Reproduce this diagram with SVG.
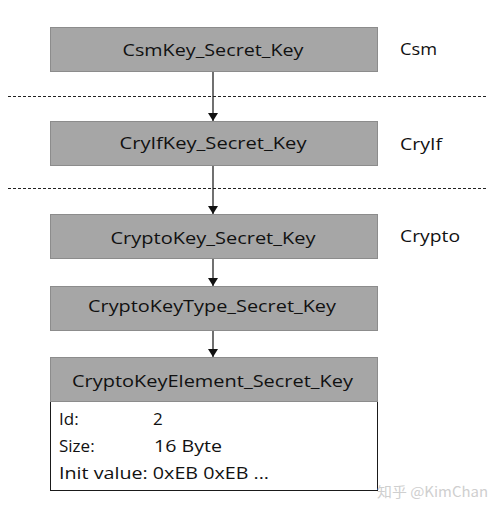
<svg xmlns="http://www.w3.org/2000/svg" width="500" height="514" viewBox="0 0 500 514">
<defs>
<style>
.box{fill:#a6a6a6;stroke:#8c8c8c;stroke-width:1}
.body{fill:#ffffff;stroke:#1a1a1a;stroke-width:1}
.t{font-family:"Open Sans","Liberation Sans",sans-serif;font-size:17px;fill:#111111}
.c{text-anchor:middle}
.dash{stroke:#222222;stroke-width:1;stroke-dasharray:3 2;fill:none}
.conn{stroke:#111111;stroke-width:1.2;fill:none}
.wm{font-family:"Noto Sans CJK SC","Liberation Sans",sans-serif;font-size:14px;fill:#cfcfcf}
</style>
<marker id="arr" viewBox="0 0 8 10" refX="8" refY="5" markerWidth="8" markerHeight="10" markerUnits="userSpaceOnUse" orient="auto">
<path d="M0,0 L8,5 L0,10 Z" fill="#111111"/>
</marker>
</defs>
<rect width="500" height="514" fill="#ffffff"/>
<g id="separators">
<line class="dash" x1="8" y1="96.5" x2="488" y2="96.5"/>
<line class="dash" x1="8" y1="188.5" x2="488" y2="188.5"/>
</g>
<g id="connectors">
<line class="conn" x1="213" y1="71" x2="213" y2="121" marker-end="url(#arr)"/>
<line class="conn" x1="213" y1="165" x2="213" y2="214" marker-end="url(#arr)"/>
<line class="conn" x1="213" y1="259" x2="213" y2="286" marker-end="url(#arr)"/>
<line class="conn" x1="213" y1="330" x2="213" y2="357" marker-end="url(#arr)"/>
</g>
<g id="csmkey">
<rect class="box" x="50.5" y="27.5" width="327" height="44"/>
<text class="t c" x="213" y="56" textLength="181" lengthAdjust="spacingAndGlyphs">CsmKey_Secret_Key</text>
</g>
<g id="cryifkey">
<rect class="box" x="50.5" y="121.5" width="327" height="44"/>
<text class="t c" x="213" y="149" textLength="187" lengthAdjust="spacingAndGlyphs">CryIfKey_Secret_Key</text>
</g>
<g id="cryptokey">
<rect class="box" x="50.5" y="214.5" width="327" height="44"/>
<text class="t c" x="213" y="244" textLength="205" lengthAdjust="spacingAndGlyphs">CryptoKey_Secret_Key</text>
</g>
<g id="cryptokeytype">
<rect class="box" x="50.5" y="286.5" width="327" height="44"/>
<text class="t c" x="212" y="312" textLength="248" lengthAdjust="spacingAndGlyphs">CryptoKeyType_Secret_Key</text>
</g>
<g id="cryptokeyelement">
<rect class="body" x="50.5" y="401.5" width="327" height="89"/>
<rect class="box" x="50.5" y="357.5" width="327" height="44"/>
<text class="t c" x="212.5" y="387" textLength="281" lengthAdjust="spacingAndGlyphs">CryptoKeyElement_Secret_Key</text>
<text class="t" x="59" y="425">Id:</text>
<text class="t" x="153" y="425">2</text>
<text class="t" x="59" y="452">Size:</text>
<text class="t" x="154" y="452" textLength="68" lengthAdjust="spacingAndGlyphs">16 Byte</text>
<text class="t" x="59" y="479" textLength="210" lengthAdjust="spacingAndGlyphs">Init value: 0xEB 0xEB ...</text>
</g>
<g id="layers">
<text class="t" x="400" y="55" textLength="37" lengthAdjust="spacingAndGlyphs">Csm</text>
<text class="t" x="400" y="150" textLength="42" lengthAdjust="spacingAndGlyphs">CryIf</text>
<text class="t" x="400" y="242" textLength="60" lengthAdjust="spacingAndGlyphs">Crypto</text>
</g>
<text class="wm" x="377" y="497" textLength="111" lengthAdjust="spacingAndGlyphs">知乎 @KimChan</text>
</svg>
